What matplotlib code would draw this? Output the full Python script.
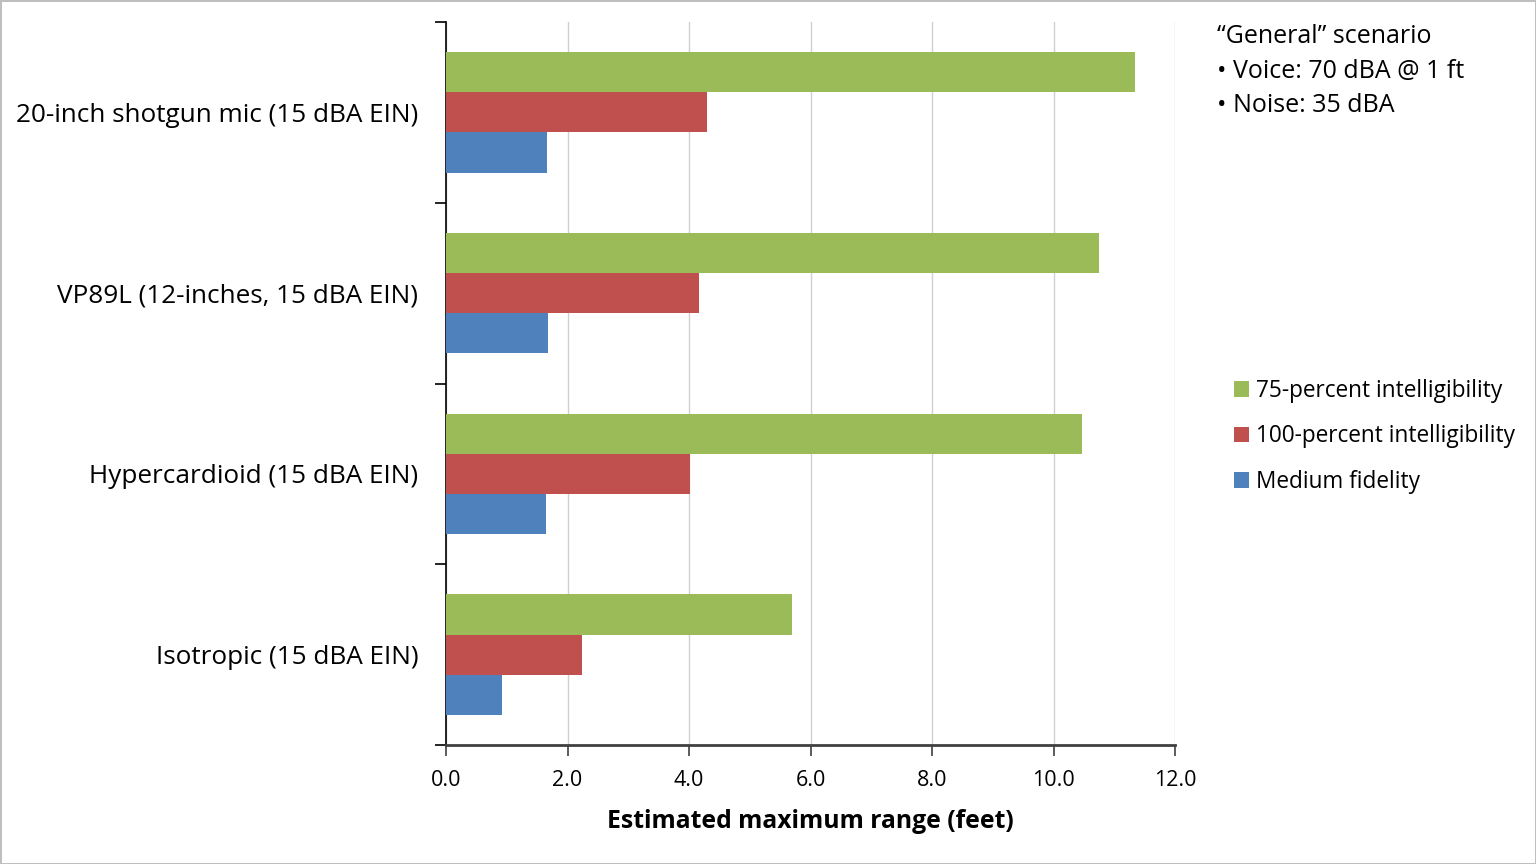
import numpy as np
import matplotlib
matplotlib.use("Agg")
import matplotlib.pyplot as plt

plt.rcParams['font.family'] = ['Open Sans', 'DejaVu Sans']

# categories bottom to top
mics = ["Isotropic (15 dBA EIN)", "Hypercardioid (15 dBA EIN)",
        "VP89L (12-inches, 15 dBA EIN)", "20-inch shotgun mic (15 dBA EIN)"]
intel75 = [5.70, 10.47, 10.75, 11.34]
intel100 = [2.24, 4.02, 4.16, 4.30]
medium = [0.92, 1.65, 1.68, 1.66]

series_names = ["75-percent intelligibility", "100-percent intelligibility", "Medium fidelity"]
colors = ["#9BBB59", "#C0504D", "#4F81BD"]

fig = plt.figure(figsize=(15.36, 8.64), dpi=100)
fig.patch.set_edgecolor("#BFBFBF")
fig.patch.set_linewidth(2)
ax = fig.add_axes([0.2904, 0.1377, 0.4746, 0.8368])

y = np.arange(len(mics))
h = 0.222
ax.barh(y + h, intel75, height=h, color=colors[0], label=series_names[0], zorder=3)
ax.barh(y, intel100, height=h, color=colors[1], label=series_names[1], zorder=3)
ax.barh(y - h, medium, height=h, color=colors[2], label=series_names[2], zorder=3)

ax.set_xlim(0, 12)
ax.set_ylim(-0.5, 3.5)
ax.set_xticks(np.arange(0, 12.1, 2))
ax.set_xticklabels(["%.1f" % v for v in np.arange(0, 12.1, 2)], fontsize=15.5)
ax.set_yticks(y)
ax.set_yticklabels(mics, fontsize=18.8)
ax.set_yticks(np.arange(-0.5, 3.6, 1), minor=True)
ax.tick_params(axis="y", which="major", length=0, pad=20)
ax.tick_params(axis="y", which="minor", length=8, width=1.2, color="black")
ax.tick_params(axis="x", length=8, width=1.2, color="#404040", pad=10)
ax.grid(axis="x", color="#D0D0D0", linewidth=1, zorder=0)

for s in ["top", "right"]:
    ax.spines[s].set_visible(False)
ax.spines["left"].set_color("black")
ax.spines["left"].set_linewidth(1.2)
ax.spines["bottom"].set_color("#404040")
ax.spines["bottom"].set_linewidth(2)

ax.set_xlabel("Estimated maximum range (feet)", fontsize=17.8, fontweight="bold", labelpad=13)

fig.legend(loc="upper left", bbox_to_anchor=(0.79, 0.585), frameon=False, fontsize=16.3,
           handlelength=0.65, handleheight=0.65, handletextpad=0.35, labelspacing=0.95)

fig.text(0.792, 0.972, "\u201cGeneral\u201d scenario\n\u2022 Voice: 70 dBA @ 1 ft\n\u2022 Noise: 35 dBA",
         fontsize=18, va="top", ha="left", linespacing=1.5)

fig.savefig("out.png", dpi=100)
